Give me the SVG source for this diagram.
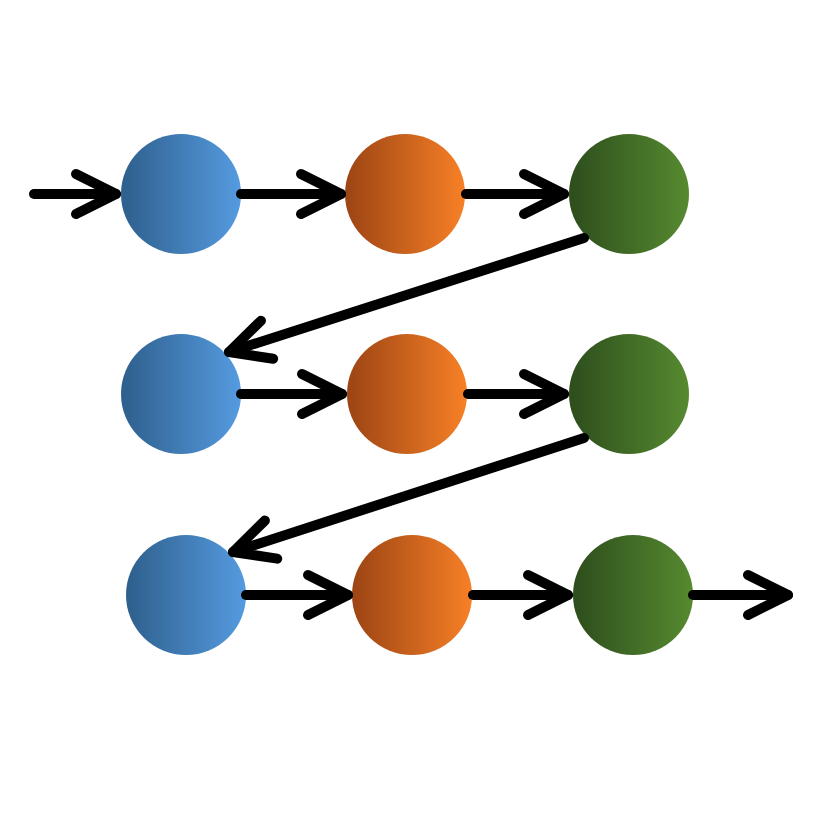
<svg xmlns="http://www.w3.org/2000/svg" width="829" height="829" viewBox="0 0 829 829">
<style>.c{stroke:#000;stroke-width:10;fill:none;stroke-linecap:round;stroke-linejoin:round}</style>
<defs>
<linearGradient id="b"><stop offset="0" stop-color="#2e5f8c"/><stop offset="1" stop-color="#559be0"/></linearGradient>
<linearGradient id="o"><stop offset="0" stop-color="#9c4414"/><stop offset="1" stop-color="#f78026"/></linearGradient>
<linearGradient id="g"><stop offset="0" stop-color="#2d4d1c"/><stop offset="1" stop-color="#568a30"/></linearGradient>
<marker id="a" markerUnits="userSpaceOnUse" markerWidth="60" markerHeight="60" viewBox="-50 -30 60 60" refX="0" refY="0" orient="auto" overflow="visible"><path d="M-40,-20 L0,0 L-40,20" class="c"/></marker>
</defs>
<g id="nodes">
<circle id="n1" cx="181" cy="194" r="60" fill="url(#b)"/>
<circle id="n2" cx="405" cy="194" r="60" fill="url(#o)"/>
<circle id="n3" cx="629" cy="194" r="60" fill="url(#g)"/>
<circle id="n4" cx="181" cy="394" r="60" fill="url(#b)"/>
<circle id="n5" cx="407" cy="394" r="60" fill="url(#o)"/>
<circle id="n6" cx="629" cy="394" r="60" fill="url(#g)"/>
<circle id="n7" cx="186" cy="595" r="60" fill="url(#b)"/>
<circle id="n8" cx="412" cy="595" r="60" fill="url(#o)"/>
<circle id="n9" cx="633" cy="595" r="60" fill="url(#g)"/>
</g>
<g id="connectors" class="c" marker-end="url(#a)">
<path d="M34,194 H116"/>
<path d="M241,194 H341"/>
<path d="M466,194 H564"/>
<path d="M584,238 L229,352"/>
<path d="M241,394 H342"/>
<path d="M468,394 H564"/>
<path d="M584,438 L233,552"/>
<path d="M246,595 H348"/>
<path d="M473,595 H568"/>
<path d="M693,595 H788"/>
</g>
</svg>
